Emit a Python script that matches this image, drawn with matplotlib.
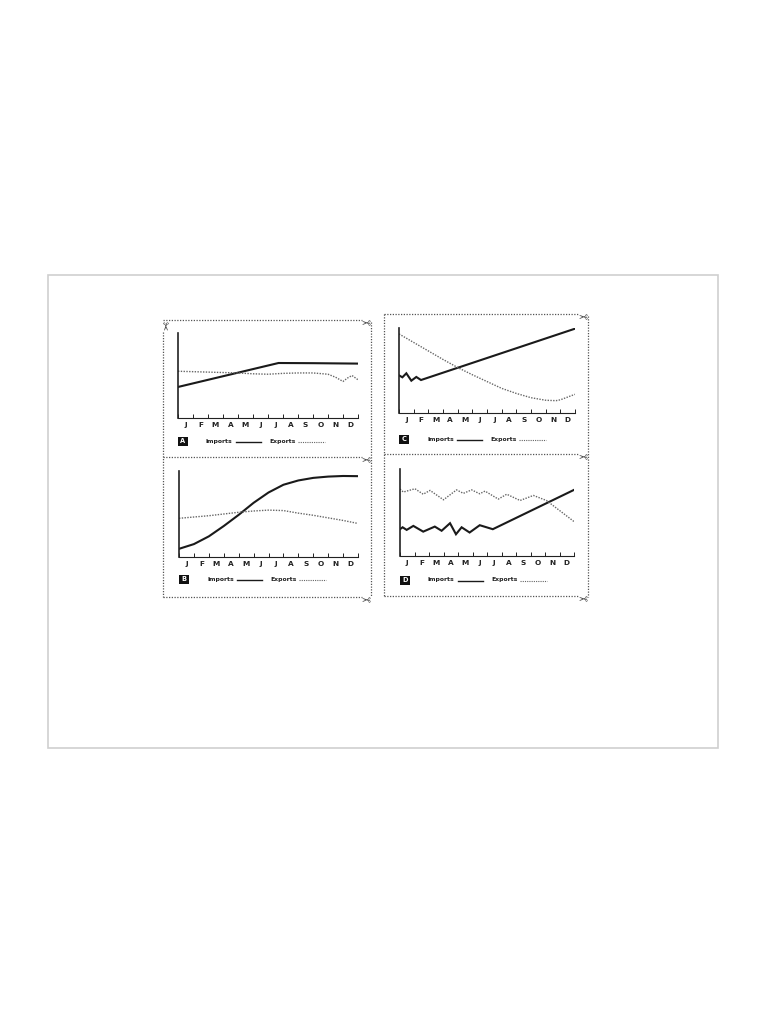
import numpy as np
import matplotlib
matplotlib.use("Agg")
import matplotlib.pyplot as plt
from matplotlib.lines import Line2D
from matplotlib.patches import Rectangle

W, H = 768, 1024

months = ["J", "F", "M", "A", "M", "J", "J", "A", "S", "O", "N", "D"]

# panel A
a_imp_x = [0, 6.7, 9, 12]
a_imp_y = [36.5, 64.7, 64.5, 64]
a_exp_x = [0, 1, 2, 3, 4, 5, 6, 7, 8, 9, 10, 10.5, 11, 11.3, 11.6, 12]
a_exp_y = [55, 54.5, 54, 53.5, 53, 52, 51.5, 52.5, 53, 53, 51.5, 48, 43, 47, 50, 45]

# panel B
b_imp_x = [0, 1, 2, 3, 4, 5, 6, 7, 8, 9, 10, 11, 12]
b_imp_y = [9.5, 15, 24, 36, 49, 63, 75, 84, 89, 92, 93.5, 94.2, 94]
b_exp_x = [0, 1, 2, 3, 4, 5, 6, 7, 8, 9, 10, 11, 12]
b_exp_y = [45, 46.5, 48, 50, 52, 53.5, 54.5, 54, 51, 48.5, 45.5, 42.5, 39]

# panel C
c_imp_x = [0, 0.23, 0.5, 0.84, 1.18, 1.5, 12]
c_imp_y = [44.3, 42, 46.7, 38, 42.4, 38.8, 99.2]
c_exp_x = [0, 1, 2, 3, 4, 5, 6, 7, 8, 9, 10, 10.7, 11, 12]
c_exp_y = [93, 83, 73, 63, 53.5, 45, 37, 29, 23, 18, 15, 14.5, 15.5, 22]

# panel D
d_imp_x = [0, 0.18, 0.46, 0.92, 1.6, 2.4, 2.87, 3.45, 3.86, 4.25, 4.8, 5.5, 6.4, 12]
d_imp_y = [30.8, 33, 30, 34.6, 28, 33.8, 29, 37.7, 25, 33, 27, 35.4, 30.8, 76]
d_exp_x = [0, 0.23, 1.03, 1.6, 2.07, 3, 3.9, 4.37, 4.94, 5.5, 5.86, 6.78, 7.36, 8.28, 9.2, 10.1, 12]
d_exp_y = [77, 73.5, 77.3, 71, 75.4, 64.6, 76, 72, 76, 71.5, 74.6, 65.4, 71, 63.8, 69.6, 63.8, 39.6]

panels = [
    ("A", (178, 358, 333, 418), 441, a_imp_x, a_imp_y, a_exp_x, a_exp_y),
    ("B", (179, 358, 471, 557), 579, b_imp_x, b_imp_y, b_exp_x, b_exp_y),
    ("C", (399, 575, 328, 413), 439, c_imp_x, c_imp_y, c_exp_x, c_exp_y),
    ("D", (400, 574, 469, 556), 580, d_imp_x, d_imp_y, d_exp_x, d_exp_y),
]


def fx(x):
    return x / W


def fy(y):
    return 1 - y / H


fig = plt.figure(figsize=(7.68, 10.24), dpi=100)
fig.patch.set_facecolor("white")

# page border
fig.add_artist(Rectangle((fx(48), fy(748)), fx(718) - fx(48), fy(275) - fy(748),
                         transform=fig.transFigure, fill=False, edgecolor="#cfcfcf", lw=1.2))


def cut(x0, y0, x1, y1):
    fig.add_artist(Line2D([fx(x0), fx(x1)], [fy(y0), fy(y1)], transform=fig.transFigure,
                          color="#555555", lw=0.9, ls=(0, (1, 1.2))))


def scissors(x, y, rot=180):
    fig.text(fx(x), fy(y), "\u2702", fontsize=8, rotation=rot, color="#333333",
             ha="center", va="center")


# left block cut lines
cut(163, 320, 362, 320)
cut(163, 332, 163, 597)
cut(371, 322, 371, 597)
cut(163, 457, 362, 457)
cut(163, 597, 362, 597)
scissors(366, 320)
scissors(366, 457)
scissors(366, 597)
scissors(163, 326, rot=270)

# right block cut lines
cut(384, 314, 579, 314)
cut(384, 314, 384, 597)
cut(588, 316, 588, 597)
cut(384, 454, 579, 454)
cut(384, 596, 579, 596)
scissors(583, 314)
scissors(583, 454)
scissors(583, 596)

for letter, (x0, x1, yt, yb), ly, ix, iy, ex, ey in panels:
    ax = fig.add_axes([fx(x0), fy(yb), fx(x1) - fx(x0), fy(yt) - fy(yb)])
    ax.plot(ix, iy, color="#1a1a1a", lw=1.5, solid_joinstyle="miter")
    ax.plot(ex, ey, color="#666666", lw=1.0, ls=(0, (1, 1)))
    ax.set_xlim(0, 12)
    ax.set_ylim(0, 100)
    ax.spines["top"].set_visible(False)
    ax.spines["right"].set_visible(False)
    ax.spines["left"].set_linewidth(1.2)
    ax.spines["bottom"].set_linewidth(0.8)
    ax.spines["left"].set_color("#222222")
    ax.spines["bottom"].set_color("#222222")
    ax.set_yticks([])
    ax.set_xticks(np.arange(12) + 0.5)
    ax.set_xticklabels(months, fontsize=5.3, fontweight="bold", color="#222222")
    ax.set_xticks(np.arange(13), minor=True)
    ax.tick_params(axis="x", which="major", length=0, pad=3)
    ax.tick_params(axis="x", which="minor", length=3, width=0.7, direction="in", color="#222222")
    ax.patch.set_alpha(0)

    # legend strip
    fig.add_artist(Rectangle((fx(x0), fy(ly + 4.5)), fx(10), 9 / H, transform=fig.transFigure,
                             facecolor="#111111", edgecolor="none"))
    fig.text(fx(x0 + 5), fy(ly), letter, color="white", fontsize=4.8, fontweight="bold",
             ha="center", va="center")
    fig.text(fx(x0 + 28), fy(ly), "Imports", fontsize=4.4, fontweight="bold",
             ha="left", va="center", color="#222222")
    fig.add_artist(Line2D([fx(x0 + 58), fx(x0 + 83)], [fy(ly + 0.5), fy(ly + 0.5)],
                          transform=fig.transFigure, color="#1a1a1a", lw=1.0))
    fig.text(fx(x0 + 91), fy(ly), "Exports", fontsize=4.4, fontweight="bold",
             ha="left", va="center", color="#222222")
    fig.add_artist(Line2D([fx(x0 + 120), fx(x0 + 147)], [fy(ly + 0.5), fy(ly + 0.5)],
                          transform=fig.transFigure, color="#666666", lw=0.8, ls=(0, (1, 1))))

fig.savefig("out.png", dpi=100, facecolor="white")
